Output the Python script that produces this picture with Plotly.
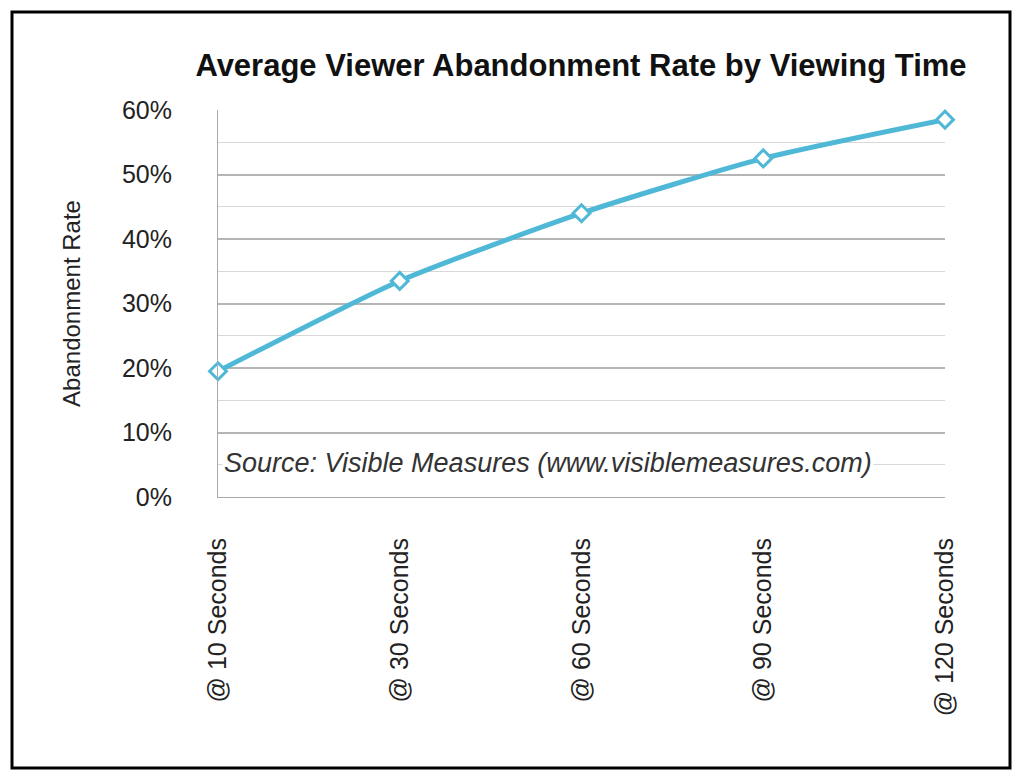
import plotly.graph_objects as go

categories = ["@ 10 Seconds", "@ 30 Seconds", "@ 60 Seconds", "@ 90 Seconds", "@ 120 Seconds"]
rates = [0.195, 0.335, 0.44, 0.525, 0.585]
xpos = [0, 1, 2, 3, 4]

W, H = 1008, 762
L, T, PW, PH = 210, 102, 727, 387

fig = go.Figure()
fig.add_trace(go.Scatter(
    x=xpos, y=rates, mode="lines+markers", cliponaxis=False,
    line=dict(color="#4fb8d6", width=5, shape="spline", smoothing=0.6),
    marker=dict(symbol="diamond", size=13, color="white", line=dict(color="#4fb8d6", width=3)),
    showlegend=False))

fig.update_layout(
    width=W, height=H,
    margin=dict(l=L, r=W - L - PW, t=T, b=H - T - PH),
    paper_bgcolor="white", plot_bgcolor="white",
    font=dict(family="Liberation Sans, Arial", size=24, color="#222"),
    title=dict(text="<b>Average Viewer Abandonment Rate by Viewing Time</b>",
               x=(581 - 8) / W, xanchor="center", y=1 - 57 / H, yanchor="middle",
               font=dict(size=31, color="#111")),
    xaxis=dict(range=[0, 4], tickvals=xpos, ticktext=categories, tickangle=-90,
               showgrid=False, zeroline=False, showline=True, linecolor="#aaa",
               ticks="outside", ticklen=30, tickcolor="rgba(0,0,0,0)", tickfont=dict(size=25)),
    yaxis=dict(range=[0, 0.6], dtick=0.1, tickformat=".0%", showgrid=True,
               gridcolor="#b5b5b5", gridwidth=2, zeroline=False, showline=True,
               linecolor="#aaa", ticks="outside", ticklen=40, tickcolor="rgba(0,0,0,0)",
               tickfont=dict(size=25),
               minor=dict(dtick=0.05, showgrid=True, gridcolor="#d8d8d8", gridwidth=1),
               title=dict(text="Abandonment Rate", font=dict(size=24), standoff=34)),
    shapes=[dict(type="rect", xref="paper", yref="paper",
                 x0=(4 - L) / PW, x1=(1002 - L) / PW,
                 y0=(T + PH - 760) / PH, y1=(T + PH - 4) / PH,
                 line=dict(color="black", width=3))],
    annotations=[dict(text="<i>Source: Visible Measures (www.visiblemeasures.com)</i>",
                      x=0.005, y=0.045, xref="paper", yref="paper", xanchor="left",
                      showarrow=False, font=dict(size=27, color="#333"), bgcolor="white")],
)
fig.write_html("out.html")
